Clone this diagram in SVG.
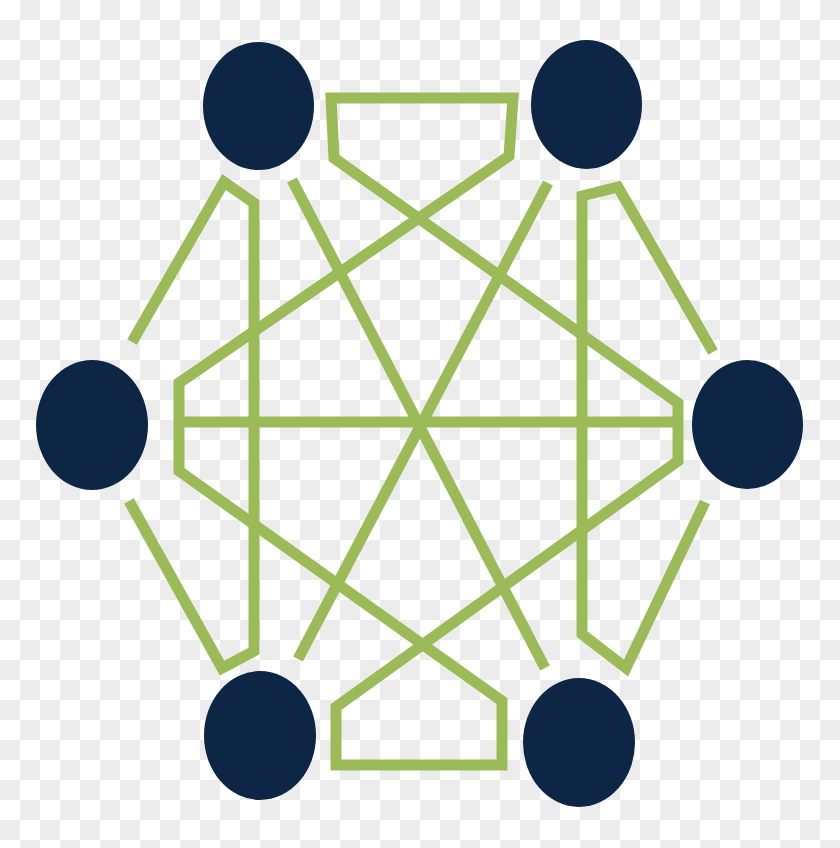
<svg xmlns="http://www.w3.org/2000/svg" width="840" height="848" viewBox="0 0 840 848">
  <defs>
    <pattern id="checker" x="0" y="0" width="40" height="40" patternUnits="userSpaceOnUse">
      <rect x="0" y="0" width="40" height="40" fill="#ffffff"/>
      <rect x="20" y="0" width="20" height="20" fill="#ececec"/>
      <rect x="0" y="20" width="20" height="20" fill="#ececec"/>
    </pattern>
  </defs>
  <style>
    .node { fill: #0d2646; }
    .link { fill: none; stroke: #9bbb59; stroke-width: 11; stroke-linecap: butt; stroke-linejoin: miter; stroke-miterlimit: 10; }
  </style>
  <rect x="0" y="0" width="840" height="848" fill="url(#checker)"/>
  <g id="connectors">
    <path class="link" d="M331,98 L513,98 L509,156 L179,383 L179,471 L502,701 L502,765 L336,765 L336,707 L678,461 L678,403 L334,158 Z"/>
    <path class="link" d="M179,422 L678,422"/>
    <path class="link" d="M132,342 L224,182 L254,203 L254,651 L222,668 L129,501"/>
    <path class="link" d="M713,352 L618,187 L582,196 L582,634 L626,668 L705,502"/>
    <path class="link" d="M292,180 L545,668"/>
    <path class="link" d="M548,183 L298,659"/>
  </g>
  <g id="node-top-left"><ellipse class="node" cx="258.5" cy="106" rx="55.5" ry="64"/></g>
  <g id="node-top-right"><ellipse class="node" cx="586.5" cy="104.5" rx="55.5" ry="64.5"/></g>
  <g id="node-left"><ellipse class="node" cx="92" cy="425" rx="56" ry="65"/></g>
  <g id="node-right"><ellipse class="node" cx="747.5" cy="424.5" rx="55.5" ry="64.5"/></g>
  <g id="node-bottom-left"><ellipse class="node" cx="260" cy="735.5" rx="56" ry="64.5"/></g>
  <g id="node-bottom-right"><ellipse class="node" cx="579" cy="742.5" rx="56" ry="64.5"/></g>
</svg>
